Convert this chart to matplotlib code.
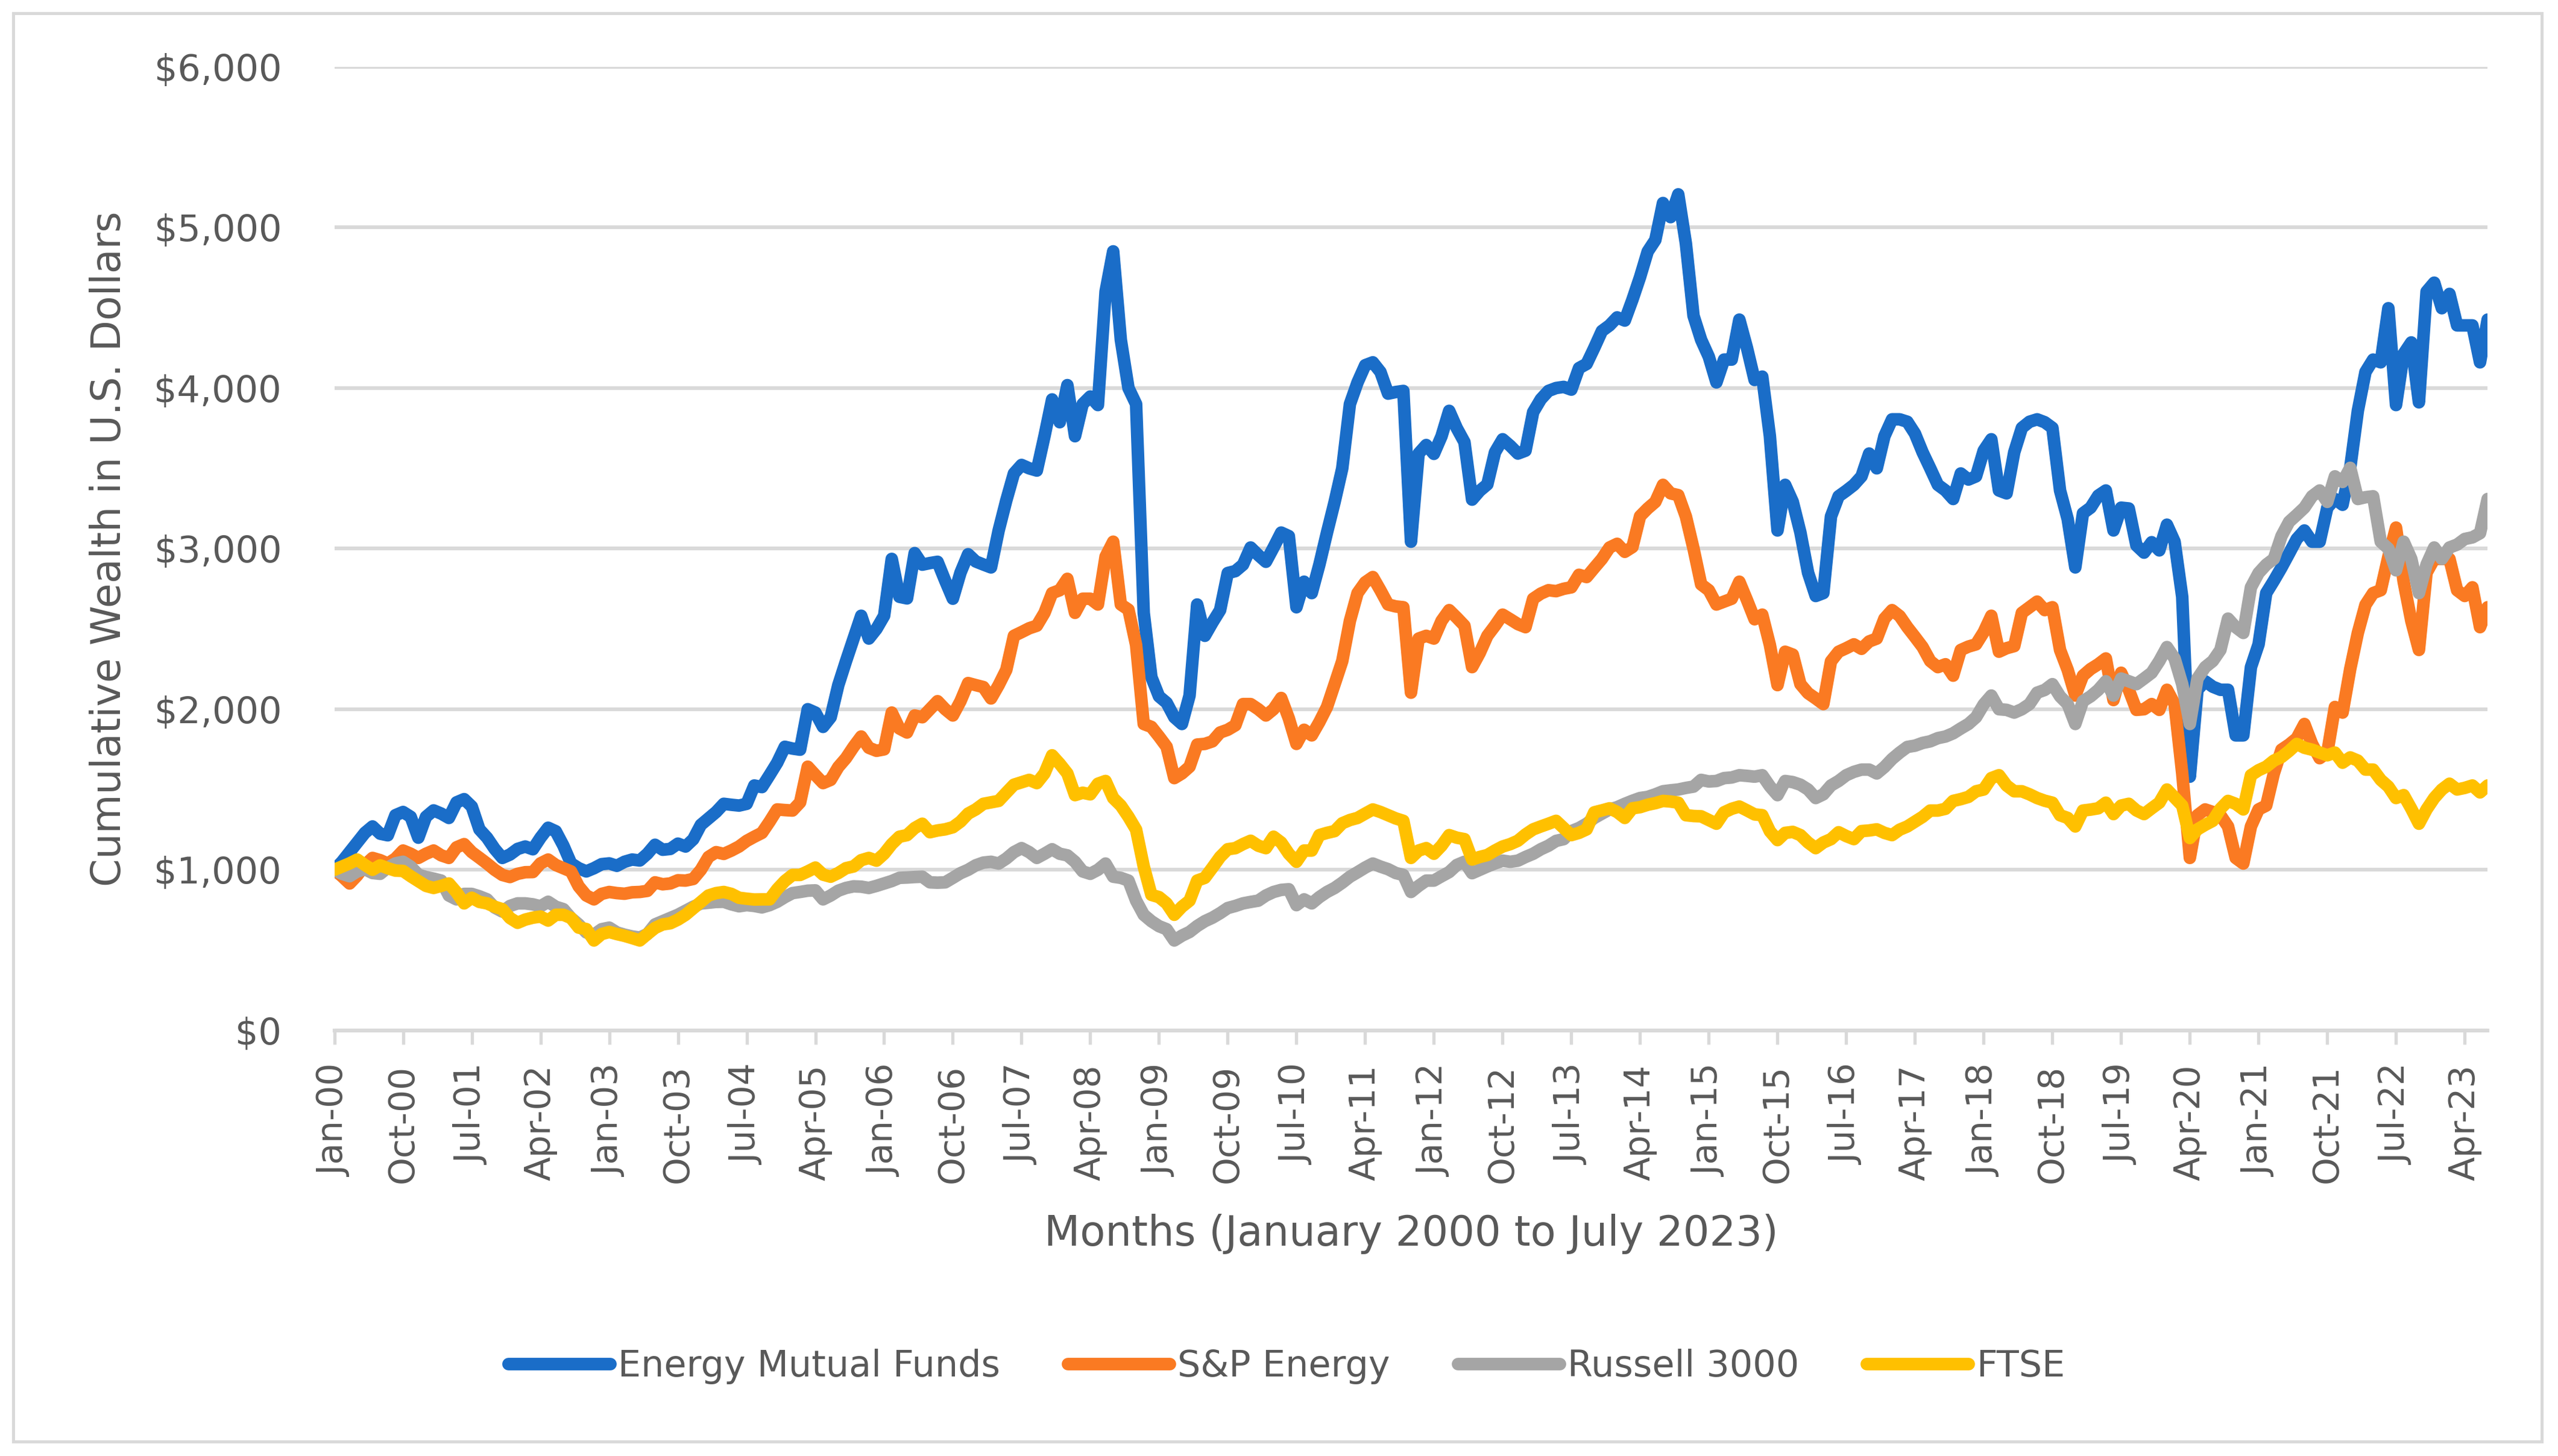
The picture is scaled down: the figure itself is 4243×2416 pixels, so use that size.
import pandas as pd
import matplotlib
matplotlib.use("Agg")
import matplotlib.pyplot as plt
from matplotlib.patches import Rectangle

# Monthly categories, January 2000 to July 2023
months = pd.date_range("2000-01-01", "2023-07-01", freq="MS")
month_labels = [d.strftime("%b-%y") for d in months]

# Cumulative wealth of $1,000 (one row per year)
energy_funds = [
    1000, 1050, 1110, 1170, 1230, 1270, 1225, 1215, 1340, 1360, 1330, 1200,
    1330, 1370, 1350, 1323, 1420, 1440, 1394, 1252, 1200, 1130, 1074, 1095,
    1130, 1145, 1128, 1200, 1262, 1240, 1150, 1040, 1010, 990, 1010, 1035,
    1040, 1025, 1050, 1064, 1058, 1100, 1156, 1125, 1130, 1163, 1145, 1190,
    1280, 1320, 1360, 1411, 1405, 1400, 1411, 1525, 1515, 1590, 1667, 1766,
    1755, 1748, 2000, 1979, 1890, 1950, 2150, 2298, 2440, 2582, 2440, 2500,
    2582, 2936, 2700, 2690, 2972, 2900, 2910, 2918, 2800, 2688, 2850, 2965,
    2920, 2901, 2883, 3113, 3300, 3468, 3521, 3500, 3486, 3700, 3929, 3787,
    4018, 3700, 3900, 3947, 3894, 4600, 4851, 4300, 4000, 3900, 2600, 2200,
    2080, 2040, 1950, 1908, 2085, 2652, 2457, 2540, 2617, 2848, 2860, 2900,
    3007, 2960, 2918, 3007, 3100, 3078, 2635, 2794, 2723, 2900, 3100, 3291,
    3500, 3900, 4035, 4142, 4160, 4100, 3965, 3975, 3982, 3043, 3592, 3645,
    3590, 3700, 3858, 3750, 3663, 3305, 3360, 3400, 3600, 3681, 3640, 3592,
    3610, 3850, 3930, 3982, 4000, 4007, 3990, 4124, 4150, 4250, 4355, 4390,
    4440, 4420, 4550, 4691, 4850, 4922, 5152, 5064, 5206, 4900, 4450, 4300,
    4195, 4035, 4177, 4177, 4426, 4250, 4050, 4071, 3700, 3113, 3397, 3291,
    3100, 2850, 2705, 2723, 3200, 3326, 3360, 3397, 3450, 3592, 3500, 3700,
    3805, 3805, 3790, 3716, 3600, 3500, 3397, 3362, 3309, 3468, 3430, 3450,
    3610, 3681, 3362, 3344, 3600, 3752, 3790, 3805, 3787, 3752, 3362, 3184,
    2883, 3220, 3255, 3330, 3362, 3113, 3255, 3250, 3020, 2975, 3040, 2989,
    3149, 3043, 2700, 1580, 2121, 2174, 2140, 2121, 2121, 1837, 1837, 2262,
    2404, 2723, 2800, 2882, 2970, 3060, 3113, 3043, 3043, 3255, 3309, 3273,
    3503, 3858, 4100, 4177, 4160, 4497, 3894, 4213, 4284, 3911, 4600, 4656,
    4497, 4586, 4390, 4390, 4390, 4160, 4426,
]

sp_energy = [
    1000, 960, 915, 965, 1030, 1074, 1060, 1039, 1070, 1120, 1100, 1074,
    1100, 1120, 1090, 1074, 1140, 1160, 1110, 1075, 1039, 1000, 968, 955,
    975, 985, 986, 1040, 1064, 1030, 1010, 990, 897, 840, 816, 850,
    862, 855, 851, 860, 862, 869, 922, 910, 915, 935, 933, 943,
    1000, 1080, 1110, 1099, 1120, 1145, 1180, 1206, 1230, 1300, 1376, 1372,
    1369, 1420, 1642, 1590, 1540, 1560, 1640, 1695, 1766, 1830, 1760, 1741,
    1750, 1979, 1880, 1855, 1961, 1950, 2000, 2050, 2000, 1961, 2050, 2163,
    2150, 2138, 2067, 2150, 2245, 2457, 2480, 2504, 2520, 2600, 2723, 2741,
    2812, 2600, 2688, 2688, 2652, 2950, 3043, 2652, 2620, 2400, 1908, 1890,
    1830, 1766, 1571, 1600, 1642, 1780, 1784, 1800, 1855, 1872, 1900, 2032,
    2032, 2000, 1961, 2000, 2070, 1943, 1784, 1872, 1837, 1920, 2014, 2156,
    2300, 2550, 2723, 2790, 2823, 2740, 2652, 2640, 2635, 2103, 2440, 2457,
    2440, 2550, 2617, 2570, 2520, 2262, 2350, 2457, 2520, 2589, 2560, 2530,
    2511, 2688, 2720, 2741, 2735, 2750, 2759, 2837, 2823, 2880, 2936, 3007,
    3030, 2980, 3010, 3202, 3250, 3291, 3397, 3344, 3333, 3200, 3000, 2777,
    2741, 2652, 2670, 2688, 2794, 2680, 2560, 2589, 2400, 2150, 2358, 2340,
    2156, 2100, 2067, 2032, 2298, 2358, 2380, 2404, 2376, 2422, 2440, 2564,
    2617, 2580, 2511, 2450, 2387, 2300, 2262, 2280, 2209, 2369, 2390, 2404,
    2480, 2582, 2358, 2380, 2393, 2600, 2635, 2670, 2617, 2635, 2369, 2245,
    2085, 2209, 2250, 2280, 2316, 2057, 2227, 2121, 1996, 2000, 2032, 1996,
    2121, 2032, 1600, 1074, 1340, 1376, 1360, 1340, 1270, 1074, 1039, 1270,
    1376, 1400, 1600, 1748, 1780, 1819, 1908, 1784, 1695, 1730, 2014, 1979,
    2250, 2475, 2650, 2723, 2741, 2950, 3131, 2794, 2550, 2369, 2850, 2936,
    2936, 2936, 2741, 2705, 2759, 2511, 2635,
]

russell_3000 = [
    1000, 975, 960, 990, 1004, 980, 975, 1014, 1040, 1050, 1020, 970,
    955, 945, 933, 840, 816, 850, 850, 835, 816, 765, 740, 775,
    791, 791, 785, 773, 801, 770, 755, 700, 660, 610, 596, 630,
    640, 610, 596, 585, 578, 600, 660, 680, 700, 720, 745, 770,
    790, 795, 800, 801, 785, 773, 780, 775, 766, 780, 801, 830,
    855, 862, 870, 872, 816, 840, 870, 887, 897, 895, 887, 900,
    915, 930, 950, 952, 955, 957, 922, 920, 922, 950, 979, 1000,
    1028, 1045, 1050, 1039, 1070, 1110, 1135, 1110, 1074, 1100, 1128, 1100,
    1090, 1050, 990, 975, 1000, 1039, 957, 950, 933, 808, 720, 680,
    649, 630, 560, 590, 613, 650, 680, 702, 730, 762, 775, 791,
    800, 808, 840, 862, 875, 879, 780, 816, 791, 830, 862, 887,
    920, 957, 985, 1014, 1039, 1020, 1004, 980, 968, 862, 900, 933,
    933, 960, 986, 1030, 1050, 979, 1000, 1021, 1040, 1057, 1050, 1057,
    1080, 1100, 1128, 1150, 1180, 1191, 1241, 1260, 1287, 1323, 1350, 1376,
    1390, 1411, 1430, 1447, 1454, 1470, 1489, 1495, 1500, 1510, 1518, 1560,
    1550, 1553, 1571, 1575, 1589, 1585, 1580, 1589, 1520, 1465, 1553, 1546,
    1530, 1500, 1447, 1470, 1525, 1553, 1589, 1610, 1624, 1624, 1600, 1640,
    1690, 1730, 1765, 1773, 1790, 1800, 1820, 1830, 1850, 1880, 1908, 1950,
    2030, 2085, 2000, 1996, 1979, 2000, 2032, 2103, 2120, 2156, 2080, 2032,
    1908, 2050, 2080, 2120, 2174, 2085, 2191, 2174, 2156, 2191, 2227, 2300,
    2387, 2316, 2156, 1908, 2191, 2262, 2300, 2369, 2564, 2511, 2475, 2759,
    2848, 2900, 2936, 3078, 3167, 3210, 3255, 3326, 3362, 3291, 3450, 3415,
    3503, 3309, 3320, 3326, 3043, 3000, 2865, 3043, 2936, 2723, 2901, 3007,
    2936, 3007, 3025, 3060, 3070, 3096, 3309,
]

ftse = [
    1000, 1020, 1040, 1064, 1030, 1000, 1028, 1010, 995, 993, 960, 930,
    900, 887, 900, 915, 860, 791, 826, 800, 791, 770, 755, 700,
    670, 690, 702, 709, 684, 720, 720, 700, 640, 631, 560, 600,
    613, 600, 589, 575, 560, 600, 638, 660, 667, 690, 720, 760,
    800, 840, 855, 862, 850, 826, 820, 815, 816, 816, 879, 930,
    968, 968, 990, 1014, 970, 957, 980, 1010, 1021, 1060, 1074, 1057,
    1100, 1160, 1206, 1216, 1260, 1287, 1234, 1245, 1252, 1265, 1300, 1350,
    1376, 1411, 1420, 1429, 1480, 1530, 1545, 1560, 1540, 1600, 1713, 1660,
    1600, 1465, 1480, 1470, 1536, 1553, 1447, 1400, 1330, 1250, 1021, 844,
    830, 791, 720, 770, 808, 933, 950, 1014, 1080, 1128, 1135, 1160,
    1181, 1150, 1135, 1206, 1170, 1100, 1050, 1120, 1120, 1216, 1230, 1241,
    1290, 1310, 1323, 1350, 1376, 1360, 1340, 1320, 1305, 1074, 1120, 1135,
    1100, 1150, 1216, 1200, 1191, 1064, 1080, 1092, 1120, 1145, 1160, 1181,
    1220, 1252, 1270, 1287, 1305, 1260, 1216, 1230, 1252, 1358, 1370, 1383,
    1360, 1323, 1383, 1390, 1405, 1415, 1429, 1425, 1418, 1340, 1335, 1333,
    1310, 1287, 1358, 1380, 1394, 1370, 1345, 1340, 1240, 1185, 1230, 1236,
    1216, 1170, 1135, 1170, 1191, 1234, 1210, 1191, 1241, 1245, 1252, 1230,
    1216, 1250, 1270, 1300, 1330, 1369, 1369, 1380, 1429, 1440, 1454, 1489,
    1500, 1571, 1589, 1525, 1489, 1489, 1470, 1447, 1430, 1418, 1340, 1323,
    1270, 1369, 1375, 1383, 1418, 1347, 1400, 1411, 1370, 1347, 1383, 1418,
    1500, 1450, 1400, 1198, 1252, 1280, 1305, 1380, 1429, 1411, 1376, 1589,
    1620, 1642, 1680, 1702, 1740, 1784, 1760, 1748, 1730, 1713, 1730, 1667,
    1700, 1680, 1624, 1624, 1560, 1518, 1447, 1465, 1380, 1287, 1376, 1447,
    1500, 1536, 1500, 1510, 1525, 1482, 1525,
]

series_names = ["Energy Mutual Funds", "S&P Energy", "Russell 3000", "FTSE"]
series_values = [energy_funds, sp_energy, russell_3000, ftse]
series_colors = ["#1A6DC8", "#FA7A22", "#A5A5A5", "#FFC000"]

for vals in series_values:
    assert len(vals) == len(months)

text_color = "#595959"
grid_color = "#D9D9D9"

fig = plt.figure(figsize=(4243 / 300, 2416 / 300), dpi=300)
ax = fig.add_axes([0.1307, 0.2923, 0.8418, 0.6618])

x = list(range(len(months)))
for name, vals, col in zip(series_names, series_values, series_colors):
    ax.plot(x, vals, color=col, lw=5, label=name,
            solid_joinstyle="round", solid_capstyle="round")

# Axes styling (Excel look)
ax.set_xlim(0, len(months) - 1)
ax.set_ylim(0, 6000)
ax.set_yticks(range(0, 6001, 1000))
ax.set_yticklabels(["${:,.0f}".format(v) for v in range(0, 6001, 1000)])
ax.yaxis.grid(True, color=grid_color, lw=1.5)
ax.set_axisbelow(True)
for side in ["top", "right", "left"]:
    ax.spines[side].set_visible(False)
ax.spines["bottom"].set_color(grid_color)
ax.spines["bottom"].set_linewidth(1.5)

tick_pos = list(range(0, len(months), 9))
ax.set_xticks(tick_pos)
ax.set_xticklabels([month_labels[i] for i in tick_pos], rotation=90)
ax.tick_params(axis="x", length=5.6, width=1.3, color=grid_color, pad=8,
               labelsize=14, labelcolor=text_color)
ax.tick_params(axis="y", length=0, pad=21, labelsize=14.5, labelcolor=text_color)

ax.set_xlabel("Months (January 2000 to July 2023)", fontsize=16.5, color=text_color)
ax.xaxis.set_label_coords(0.5, -0.2115)
ax.xaxis.label.set_va("center")
ax.set_ylabel("Cumulative Wealth in U.S. Dollars", fontsize=16, color=text_color)
ax.yaxis.set_label_coords(-0.1045, 0.5)
ax.yaxis.label.set_va("center")

leg = fig.legend(loc="center", bbox_to_anchor=(0.503, 0.0616), ncol=4,
                 frameon=False, fontsize=14.5, handlelength=2.8,
                 handletextpad=0.22, columnspacing=1.85)
for t in leg.get_texts():
    t.set_color(text_color)

# chart area border
fig.patches.append(Rectangle((0.0052, 0.0099), 0.9884, 0.981,
                             transform=fig.transFigure, fill=False,
                             ec=grid_color, lw=1.2))

fig.savefig("out.png", dpi=300)
